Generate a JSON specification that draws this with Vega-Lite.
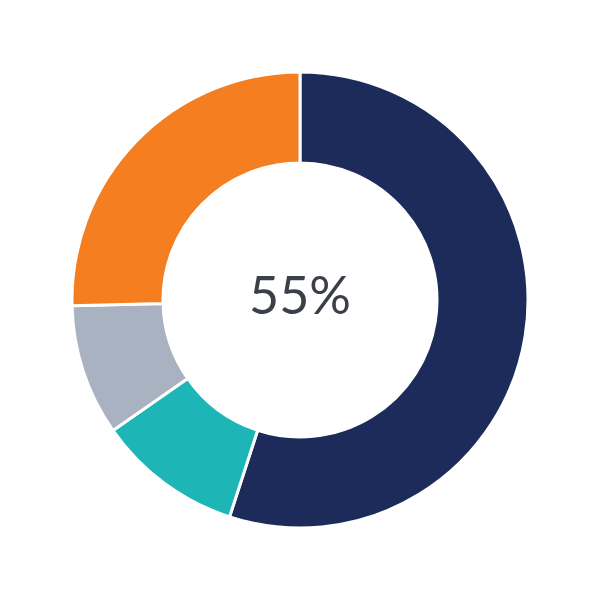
{
  "$schema": "https://vega.github.io/schema/vega-lite/v6.json",
  "width": 600,
  "height": 600,
  "autosize": {"type": "fit", "contains": "padding"},
  "padding": 0,
  "background": "white",
  "config": {"view": {"stroke": null}},
  "data": {
    "values": [
      {"category": "A", "value": 55.0, "rank": 1},
      {"category": "B", "value": 10.3, "rank": 2},
      {"category": "C", "value": 9.3, "rank": 3},
      {"category": "D", "value": 25.4, "rank": 4}
    ]
  },
  "layer": [
    {
      "mark": {"type": "arc", "innerRadius": 137, "outerRadius": 228, "stroke": "white", "strokeWidth": 3},
      "encoding": {
        "theta": {"field": "value", "type": "quantitative", "stack": true},
        "order": {"field": "rank", "type": "quantitative"},
        "color": {
          "field": "category",
          "type": "nominal",
          "scale": {"domain": ["A", "B", "C", "D"], "range": ["#1c2b59", "#1eb5b6", "#a8b2c0", "#f47e20"]},
          "legend": null
        }
      }
    },
    {
      "data": {"values": [{"label": "55%"}]},
      "mark": {"type": "text", "font": "Lato", "fontSize": 52, "color": "#3a3f48", "align": "center", "baseline": "middle", "dy": -2},
      "encoding": {"text": {"field": "label"}}
    }
  ]
}
